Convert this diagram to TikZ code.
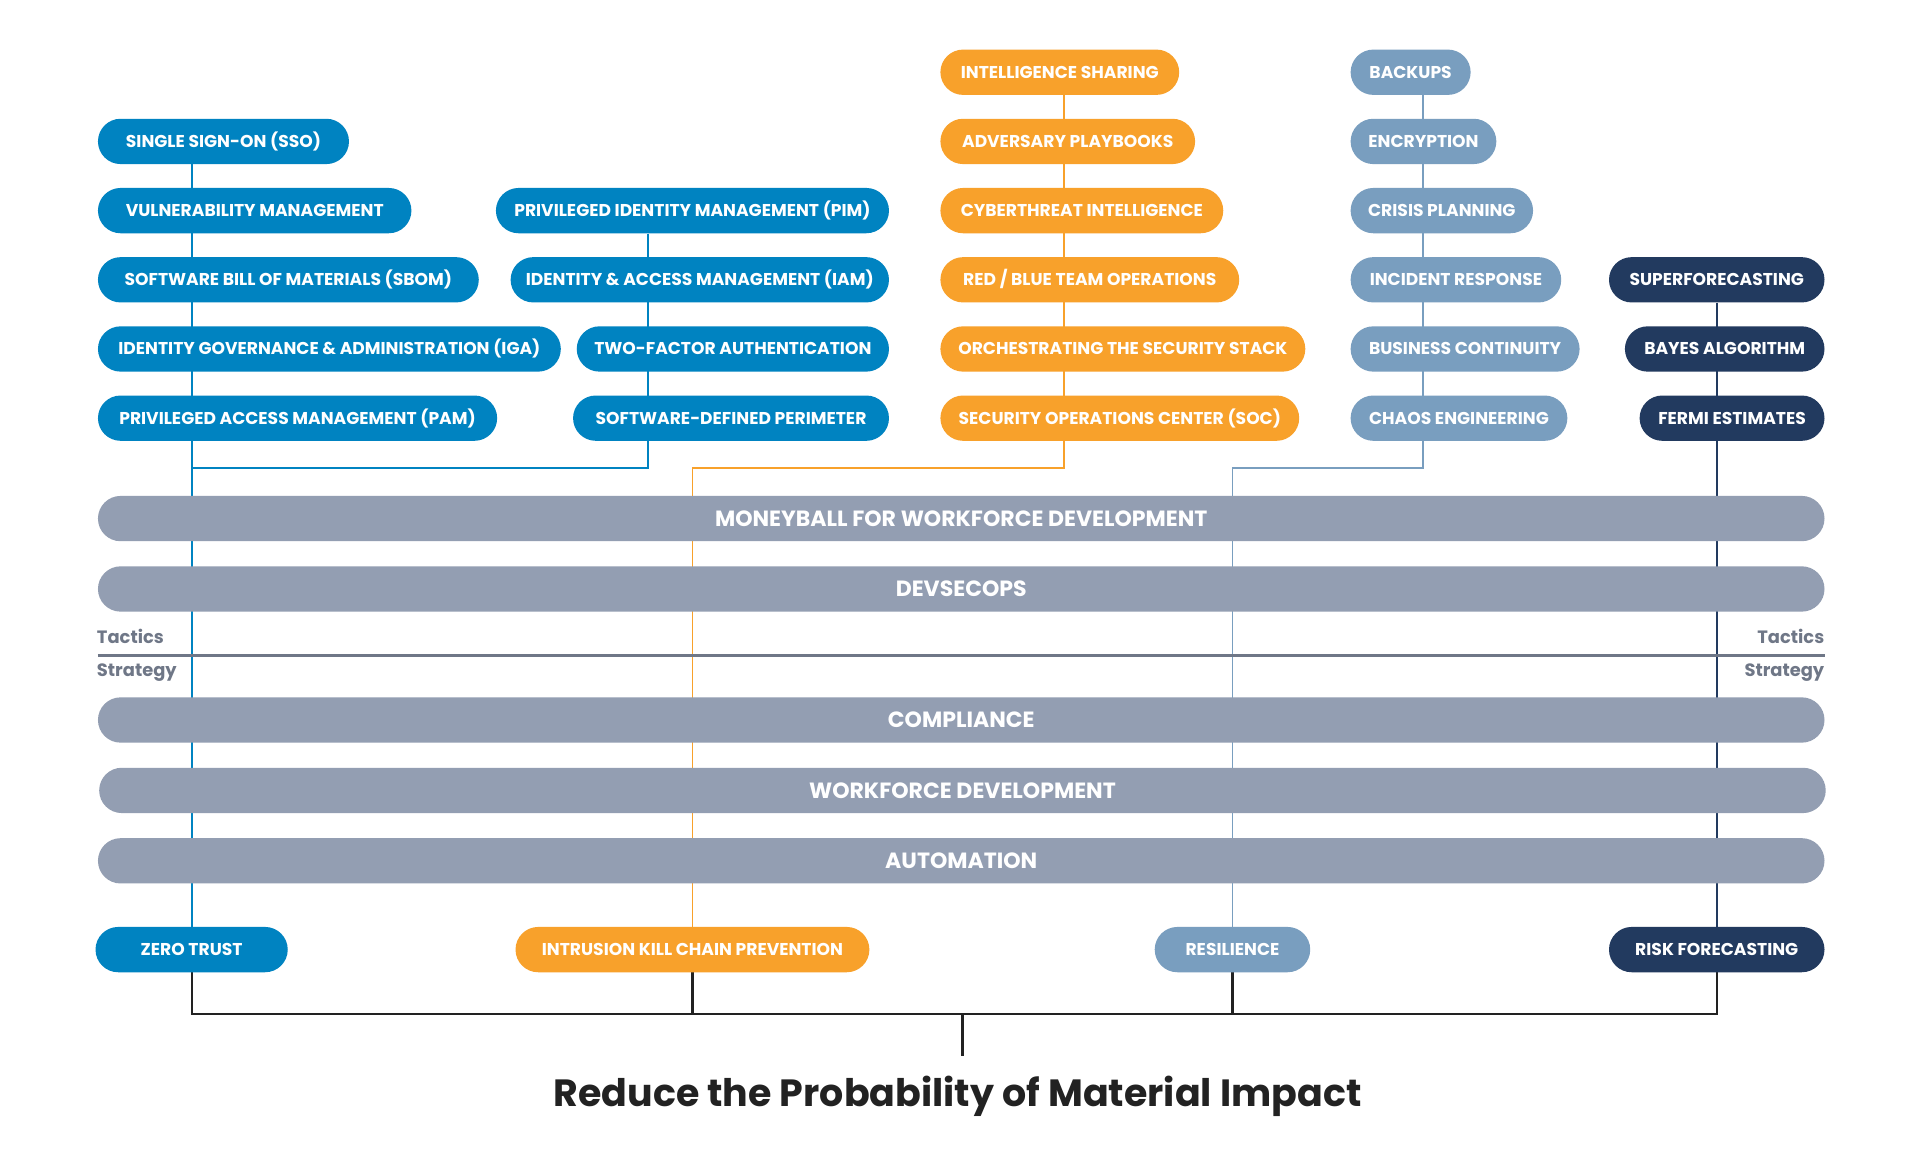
\documentclass[tikz,border=0pt]{standalone}
\usepackage{fontspec}
\setmainfont{Poppins}
\definecolor{cblue}{HTML}{0083C1}
\definecolor{corange}{HTML}{F8A12B}
\definecolor{csteel}{HTML}{799EBF}
\definecolor{cnavy}{HTML}{223A5F}
\definecolor{cbar}{HTML}{939EB2}
\definecolor{cmid}{HTML}{6F7787}
\definecolor{cdark}{HTML}{222222}
\pgfdeclarelayer{paper}
\pgfdeclarelayer{bg}
\pgfsetlayers{paper,bg,main}
\tikzset{
  pill/.style={rectangle, rounded corners=18.5pt, minimum height=37pt, inner sep=0pt,
    text=white, font=\bfseries\fontsize{14}{14}\selectfont, text height=9.8pt, text depth=0pt},
  bar/.style={rectangle, rounded corners=18.5pt, minimum height=37pt, inner sep=0pt, fill=cbar,
    text=white, font=\bfseries\fontsize{18}{18}\selectfont, text height=12.6pt, text depth=0pt},
  lbl/.style={inner sep=0pt, text=cmid, font=\bfseries\fontsize{14.6}{14.6}\selectfont},
  conn/.style={line width=1.5pt},
}
\newcommand\mypill[6]{\node[pill, fill=#5, minimum width={(#3-#2)*1pt}] (#1) at ({(#2+#3)/2},#4) {#6};}
\newcommand\mybar[5]{\node[bar, minimum width={(#3-#2)*1pt}] (#1) at ({(#2+#3)/2},#4) {#5};}
\begin{document}
\begin{tikzpicture}[x=1pt,y=-1pt]
\begin{pgfonlayer}{paper}
\useasboundingbox[fill=white] (0,0) rectangle (1568,944);
\end{pgfonlayer}
% blue column 1
\mypill{sso}{80}{285}{115.5}{cblue}{SINGLE SIGN-ON (SSO)}
\mypill{vuln}{80}{336}{172}{cblue}{VULNERABILITY MANAGEMENT}
\mypill{sbom}{80}{391}{228.5}{cblue}{SOFTWARE BILL OF MATERIALS (SBOM)}
\mypill{iga}{80}{458}{285}{cblue}{IDENTITY GOVERNANCE \& ADMINISTRATION (IGA)}
\mypill{pam}{80}{406}{341.5}{cblue}{PRIVILEGED ACCESS MANAGEMENT (PAM)}
% blue column 2
\mypill{pim}{405}{726}{172}{cblue}{PRIVILEGED IDENTITY MANAGEMENT (PIM)}
\mypill{iam}{417}{726}{228.5}{cblue}{IDENTITY \& ACCESS MANAGEMENT (IAM)}
\mypill{tfa}{471}{726}{285}{cblue}{TWO-FACTOR AUTHENTICATION}
\mypill{sdp}{468}{726}{341.5}{cblue}{SOFTWARE-DEFINED PERIMETER}
% orange column
\mypill{intel}{768}{963}{59}{corange}{INTELLIGENCE SHARING}
\mypill{adv}{768}{976}{115.5}{corange}{ADVERSARY PLAYBOOKS}
\mypill{cti}{768}{999}{172}{corange}{CYBERTHREAT INTELLIGENCE}
\mypill{rbt}{768}{1012}{228.5}{corange}{RED / BLUE TEAM OPERATIONS}
\mypill{orch}{768}{1066}{285}{corange}{ORCHESTRATING THE SECURITY STACK}
\mypill{soc}{768}{1061}{341.5}{corange}{SECURITY OPERATIONS CENTER (SOC)}
% steel column
\mypill{back}{1103}{1201}{59}{csteel}{BACKUPS}
\mypill{enc}{1103}{1222}{115.5}{csteel}{ENCRYPTION}
\mypill{cris}{1103}{1252}{172}{csteel}{CRISIS PLANNING}
\mypill{ir}{1103}{1275}{228.5}{csteel}{INCIDENT RESPONSE}
\mypill{bc}{1103}{1290}{285}{csteel}{BUSINESS CONTINUITY}
\mypill{chaos}{1103}{1280}{341.5}{csteel}{CHAOS ENGINEERING}
% navy column
\mypill{sup}{1314}{1490}{228.5}{cnavy}{SUPERFORECASTING}
\mypill{bay}{1327}{1490}{285}{cnavy}{BAYES ALGORITHM}
\mypill{fer}{1339}{1490}{341.5}{cnavy}{FERMI ESTIMATES}
% bars
\mybar{mb}{80}{1490}{423.5}{MONEYBALL FOR WORKFORCE DEVELOPMENT}
\mybar{dso}{80}{1490}{481}{DEVSECOPS}
\mybar{comp}{80}{1490}{588}{COMPLIANCE}
\mybar{wd}{81}{1491}{645.5}{WORKFORCE DEVELOPMENT}
\mybar{auto}{80}{1490}{703}{AUTOMATION}
% bottom pills
\mypill{zt}{78}{235}{775.5}{cblue}{ZERO TRUST}
\mypill{ikc}{421}{710}{775.5}{corange}{INTRUSION KILL CHAIN PREVENTION}
\mypill{res}{943}{1070}{775.5}{csteel}{RESILIENCE}
\mypill{rf}{1314}{1490}{775.5}{cnavy}{RISK FORECASTING}
% tactics / strategy
\node[lbl, anchor=west] (tl) at (79,520) {Tactics};
\node[lbl, anchor=west] (sl) at (79,549) {Strategy};
\node[lbl, anchor=east] (tr) at (1490,520) {Tactics};
\node[lbl, anchor=east] (sr) at (1490,549) {Strategy};
\coordinate (divl) at (80,535);
\coordinate (divr) at (1490,535);
% title
\node[inner sep=0pt, text=cdark, font=\bfseries\fontsize{31}{31}\selectfont, anchor=north] (title) at (782,879) {Reduce the Probability of Material Impact};
% junctions
\coordinate (j1) at (529,382);
\coordinate (j2) at (869,382);
\coordinate (j3) at (1162,382);
\coordinate (jb) at (786,828);
\coordinate (jt) at (786,862);
\begin{pgfonlayer}{bg}
\draw[conn, cblue] (sso.south -| zt) -- (zt.north);
\draw[conn, cblue] (pim.south -| j1) -- (j1) -- (j1 -| zt);
\draw[conn, corange] (intel.south -| j2) -- (j2) -- (j2 -| ikc) -- (ikc.north);
\draw[conn, csteel] (back.south -| j3) -- (j3) -- (j3 -| res) -- (res.north);
\draw[conn, cnavy] (sup.south -| rf) -- (rf.north);
\draw[line width=2.4pt, cmid] (divl) -- (divr);
\draw[line width=1.8pt, cdark] (zt.south) -- (zt.south |- jb) -- (rf.south |- jb) -- (rf.south);
\draw[line width=1.8pt, cdark] (ikc.south) -- (ikc.south |- jb);
\draw[line width=1.8pt, cdark] (res.south) -- (res.south |- jb);
\draw[line width=1.8pt, cdark] (jb) -- (jt);
\end{pgfonlayer}
\end{tikzpicture}
\end{document}
